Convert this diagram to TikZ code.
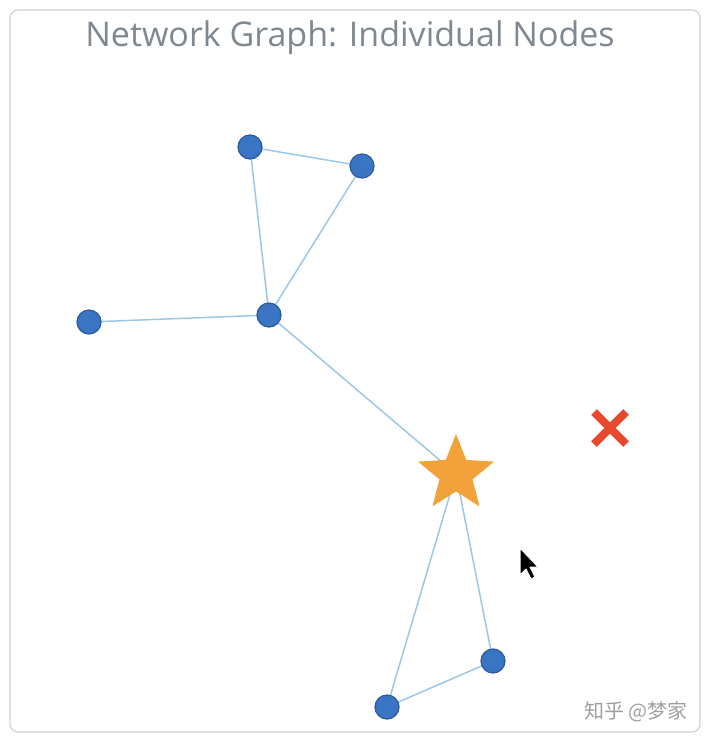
\documentclass[tikz,border=0pt]{standalone}
\usepackage{fontspec}
\setmainfont{Open Sans}
\newfontfamily\cjk{Noto Sans CJK SC}
\usetikzlibrary{shapes.geometric}
\definecolor{nodeblue}{HTML}{3A75C4}
\definecolor{nodeedge}{HTML}{2A5A9A}
\definecolor{linkblue}{HTML}{9CC7E6}
\definecolor{titlegray}{HTML}{7F8890}
\definecolor{staror}{HTML}{F2A23A}
\definecolor{xred}{HTML}{E8482C}
\tikzset{
  dot/.style={circle,fill=nodeblue,draw=nodeedge,line width=1.2pt,minimum size=24pt,inner sep=0pt},
  starnode/.style={star,star points=5,star point ratio=2.3,fill=staror,minimum size=80pt,inner sep=0pt},
  link/.style={draw=linkblue,line width=1.5pt},
}
\begin{document}
\begin{tikzpicture}[x=1pt,y=-1pt]
\useasboundingbox (0,0) rectangle (710,742);
\fill[white] (0,0) rectangle (710,742);
\draw[gray!35,line width=1.2pt,rounded corners=8pt] (10,10) rectangle (700,732);
\node[text=titlegray,font=\fontsize{34}{40}\selectfont] (title) at (350,38) {Network Graph: Individual Nodes};
\coordinate (pa) at (250,147);
\coordinate (pb) at (362,166);
\coordinate (pc) at (269,315);
\coordinate (pd) at (89,322);
\coordinate (ps) at (456,474);
\coordinate (pe) at (493,661);
\coordinate (pf) at (387,707);
\path[link] (pa) -- (pb) (pa) -- (pc) (pb) -- (pc) (pc) -- (pd) (pc) -- (ps) (ps) -- (pe) (ps) -- (pf) (pe) -- (pf);
\node[starnode] (s) at (ps) {};
\node[dot] (a) at (pa) {};
\node[dot] (b) at (pb) {};
\node[dot] (c) at (pc) {};
\node[dot] (d) at (pd) {};
\node[dot] (e) at (pe) {};
\node[dot] (f) at (pf) {};
\coordinate (x) at (610,428);
\draw[xred,line width=8pt] ([shift={(-16,-16)}]x) -- ([shift={(16,16)}]x) ([shift={(-16,16)}]x) -- ([shift={(16,-16)}]x);
\coordinate (cur) at (520,548);
\draw[white,fill=black,line width=1pt,line join=round] (cur) -- ++(0,27) -- ++(6,-6) -- ++(5,10) -- ++(4,-2) -- ++(-5,-10) -- ++(8,0) -- cycle;
\node[text=gray!75,font=\cjk\fontsize{20}{24}\selectfont] (wm) at (636,712) {知乎 @梦家};
\end{tikzpicture}
\end{document}
